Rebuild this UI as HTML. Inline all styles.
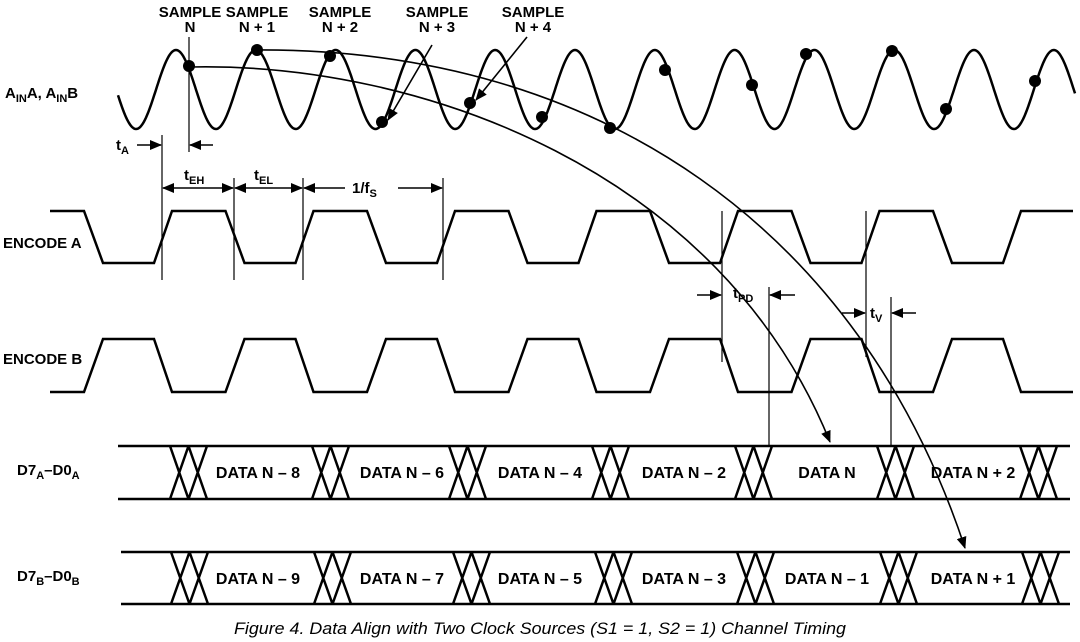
<!DOCTYPE html>
<html><head><meta charset="utf-8"><style>
html,body{margin:0;padding:0;background:#fff;}
svg{display:block;}
text{font-family:"Liberation Sans",Arial,sans-serif;font-weight:bold;fill:#000;}
</style></head><body>
<svg id="s" width="1080" height="642" viewBox="0 0 1080 642" xmlns="http://www.w3.org/2000/svg">
<defs>
<marker id="ah" markerWidth="12" markerHeight="10" refX="11" refY="5" orient="auto" markerUnits="userSpaceOnUse">
<path d="M0,0 L12,5 L0,10 z" fill="#000"/></marker>
<clipPath id="cp"><rect x="0" y="0" width="1073" height="642"/></clipPath>
</defs>
<g id="g" fill="none" stroke="#000" stroke-width="2.5" stroke-linejoin="miter" clip-path="url(#cp)"></g>
<g stroke="#000" stroke-width="1.2">
<line x1="189" y1="37" x2="189" y2="152"/>
<line x1="162" y1="135" x2="162" y2="280"/>
<line x1="234" y1="178" x2="234" y2="280"/>
<line x1="303" y1="178" x2="303" y2="280"/>
<line x1="443" y1="178" x2="443" y2="280"/>
<line x1="722" y1="211" x2="722" y2="362"/>
<line x1="769" y1="287" x2="769" y2="447"/>
<line x1="866" y1="211" x2="866" y2="357"/>
<line x1="891" y1="297" x2="891" y2="447"/>
</g>
<g stroke="#000" stroke-width="1.6" fill="none">
<line x1="137" y1="145" x2="161" y2="145" marker-end="url(#ah)"/>
<line x1="213" y1="145" x2="190" y2="145" marker-end="url(#ah)"/>
<line x1="198" y1="188" x2="163" y2="188" marker-end="url(#ah)"/>
<line x1="198" y1="188" x2="233" y2="188" marker-end="url(#ah)"/>
<line x1="268" y1="188" x2="235" y2="188" marker-end="url(#ah)"/>
<line x1="268" y1="188" x2="302" y2="188" marker-end="url(#ah)"/>
<line x1="345" y1="188" x2="304" y2="188" marker-end="url(#ah)"/>
<line x1="398" y1="188" x2="442" y2="188" marker-end="url(#ah)"/>
<line x1="697" y1="295" x2="721" y2="295" marker-end="url(#ah)"/>
<line x1="795" y1="295" x2="770" y2="295" marker-end="url(#ah)"/>
<line x1="842" y1="313" x2="865" y2="313" marker-end="url(#ah)"/>
<line x1="916" y1="313" x2="892" y2="313" marker-end="url(#ah)"/>
<line x1="432" y1="45" x2="388" y2="120" marker-end="url(#ah)"/>
<line x1="527" y1="37" x2="476" y2="100" marker-end="url(#ah)"/>
<path d="M190,67 C420,62 720,170 830,442" marker-end="url(#ah)"/>
<path d="M257,50 C600,48 860,230 965,548" marker-end="url(#ah)"/>
</g>
<g id="dots" fill="#000"></g>
<g font-size="15" text-anchor="middle">
<text x="190" y="17">SAMPLE</text><text x="190" y="32">N</text>
<text x="257" y="17">SAMPLE</text><text x="257" y="32">N + 1</text>
<text x="340" y="17">SAMPLE</text><text x="340" y="32">N + 2</text>
<text x="437" y="17">SAMPLE</text><text x="437" y="32">N + 3</text>
<text x="533" y="17">SAMPLE</text><text x="533" y="32">N + 4</text>
</g>
<g font-size="16" text-anchor="middle">
<text x="258" y="478">DATA N – 8</text><text x="402" y="478">DATA N – 6</text>
<text x="540" y="478">DATA N – 4</text><text x="684" y="478">DATA N – 2</text>
<text x="827" y="478">DATA N</text><text x="973" y="478">DATA N + 2</text>
<text x="258" y="584">DATA N – 9</text><text x="402" y="584">DATA N – 7</text>
<text x="540" y="584">DATA N – 5</text><text x="684" y="584">DATA N – 3</text>
<text x="827" y="584">DATA N – 1</text><text x="973" y="584">DATA N + 1</text>
</g>
<g font-size="15">
<text x="5" y="98">A<tspan font-size="11" dy="4">IN</tspan><tspan dy="-4">A, A</tspan><tspan font-size="11" dy="4">IN</tspan><tspan dy="-4">B</tspan></text>
<text x="3" y="248">ENCODE A</text>
<text x="3" y="364">ENCODE B</text>
<text x="17" y="475">D7<tspan font-size="11" dy="4">A</tspan><tspan dy="-4">–D0</tspan><tspan font-size="11" dy="4">A</tspan></text>
<text x="17" y="581">D7<tspan font-size="11" dy="4">B</tspan><tspan dy="-4">–D0</tspan><tspan font-size="11" dy="4">B</tspan></text>
<text x="116" y="150">t<tspan font-size="11" dy="4">A</tspan></text>
<text x="184" y="180">t<tspan font-size="11" dy="4">EH</tspan></text>
<text x="254" y="180">t<tspan font-size="11" dy="4">EL</tspan></text>
<text x="352" y="193">1/f<tspan font-size="11" dy="4">S</tspan></text>
<text x="733" y="298">t<tspan font-size="11" dy="4">PD</tspan></text>
<text x="870" y="318">t<tspan font-size="11" dy="4">V</tspan></text>
</g>
<text x="540" y="634" text-anchor="middle" font-size="17" font-style="italic" textLength="612" lengthAdjust="spacingAndGlyphs" style="font-weight:normal">Figure 4. Data Align with Two Clock Sources (S1 = 1, S2 = 1) Channel Timing</text>
</svg>
<script>
var g=document.getElementById('g'),NS='http://www.w3.org/2000/svg';
function P(d,w){var p=document.createElementNS(NS,'path');p.setAttribute('d',d);if(w)p.setAttribute('stroke-width',w);g.appendChild(p);}
var d='';for(var x=118;x<=1075;x+=1){var y=89.5-39.5*Math.cos(2*Math.PI*(x-176)/79.8);d+=(x==118?'M':'L')+x+','+y.toFixed(1);}
var p0=document.createElementNS(NS,'path');p0.setAttribute('d',d);p0.setAttribute('fill','none');p0.setAttribute('stroke','#000');p0.setAttribute('stroke-width','2.5');document.getElementById('s').insertBefore(p0,g);
var hA=211,lA=263,T=141.5;d='M50,'+hA;
for(var k=0;k<8;k++){var F=84+T*k;
d+=' L'+F+','+hA+' L'+(F+19)+','+lA+' L'+(F+70)+','+lA+' L'+(F+88)+','+hA+' L'+(F+T)+','+hA;}
P(d);
var hB=339,lB=392;d='M50,'+lB;
for(var k=0;k<8;k++){var R=84+T*k;
d+=' L'+R+','+lB+' L'+(R+19)+','+hB+' L'+(R+70)+','+hB+' L'+(R+88)+','+lB+' L'+(R+T)+','+lB;}
P(d);
function bus(x0,x1,t,b,starts){var d='M'+x0+','+t+' L'+x1+','+t+' M'+x0+','+b+' L'+x1+','+b;
starts.forEach(function(a){for(var i=0;i<2;i++){var s=a+i*18.5,e=s+18.5;d+=' M'+s+','+t+' L'+e+','+b+' M'+s+','+b+' L'+e+','+t;}});P(d);}
bus(118,1070,446,499,[170,312,449,592,735,877,1020]);
bus(121,1070,552,604,[171,314,453,595,737,880,1022]);
var dots=[[189,66],[257,50],[330,56],[382,122],[470,103],[542,117],[610,128],[665,70],[752,85],[806,54],[892,51],[946,109],[1035,81]];
var dg=document.getElementById('dots');dots.forEach(function(p){var c=document.createElementNS(NS,'circle');c.setAttribute('cx',p[0]);c.setAttribute('cy',p[1]);c.setAttribute('r',6);dg.appendChild(c);});
</script>
</body></html>
